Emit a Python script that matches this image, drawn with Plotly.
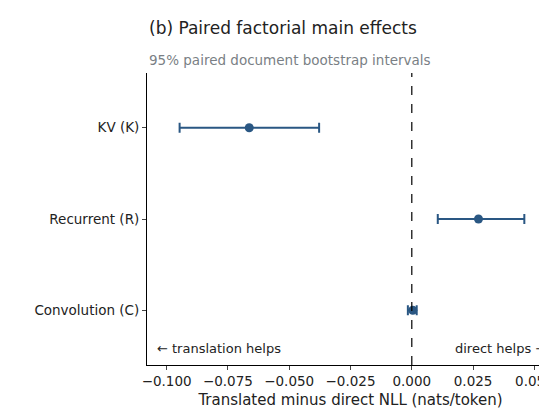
import plotly.graph_objects as go

factors = ["KV (K)", "Recurrent (R)", "Convolution (C)"]
effect = [-0.0663, 0.0272, 0.0004]
ci_low = [-0.0947, 0.0106, -0.0016]
ci_high = [-0.0378, 0.0459, 0.0020]

blue = "#2a5783"
fig = go.Figure()
fig.add_trace(go.Scatter(
    x=effect, y=factors, mode="markers",
    marker=dict(color=blue, size=9),
    error_x=dict(type="data", symmetric=False,
                 array=[h - e for h, e in zip(ci_high, effect)],
                 arrayminus=[e - l for e, l in zip(effect, ci_low)],
                 color=blue, thickness=2, width=5),
    showlegend=False))

fig.add_vline(x=0, line=dict(color="black", width=1.2, dash="dash"))

fig.add_annotation(text="(b) Paired factorial main effects", xref="paper", yref="paper",
                   x=0, y=1, yshift=45, xanchor="left", yanchor="middle", showarrow=False,
                   font=dict(size=17, color="#222"))
fig.add_annotation(text="95% paired document bootstrap intervals", xref="paper", yref="paper",
                   x=0, y=1, yshift=13, xanchor="left", yanchor="middle", showarrow=False,
                   font=dict(size=13.5, color="#7a7f85"))
fig.add_annotation(text="← translation helps", xref="paper", yref="paper",
                   x=0.02, y=0.055, xanchor="left", yanchor="middle", showarrow=False,
                   font=dict(size=13, color="#222"))
fig.add_annotation(text="direct helps →", xref="paper", yref="paper",
                   x=0.985, y=0.055, xanchor="right", yanchor="middle", showarrow=False,
                   font=dict(size=13, color="#222"))

fig.update_layout(
    width=547, height=417,
    margin=dict(l=139, r=1, t=65, b=60),
    plot_bgcolor="white", paper_bgcolor="white",
    font=dict(family="DejaVu Sans", size=13.5, color="#222"),
    xaxis=dict(range=[-0.108, 0.058], tickvals=[-0.1, -0.075, -0.05, -0.025, 0, 0.025, 0.05],
               ticktext=["\u22120.100", "\u22120.075", "\u22120.050", "\u22120.025", "0.000", "0.025", "0.050"],
               showgrid=False, zeroline=False, showline=True, linecolor="black",
               ticks="outside", ticklen=4, automargin=False,
               title=dict(text="Translated minus direct NLL (nats/token)", font=dict(size=15), standoff=6)),
    yaxis=dict(categoryorder="array", categoryarray=factors, range=[2.6, -0.6],
               showgrid=False, zeroline=False, showline=True, linecolor="black",
               ticks="outside", ticklen=4, automargin=False),
)
fig.write_html("out.html")
